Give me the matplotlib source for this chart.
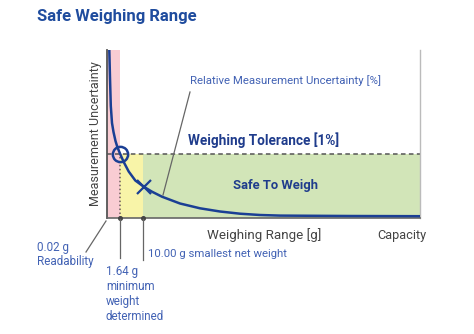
import matplotlib
matplotlib.use("Agg")
import matplotlib.pyplot as plt
from matplotlib.lines import Line2D

W, H = 474, 334

# ---- data (schematic units: x 0..313 = capacity, y 0..168) ----
curve_x = [2.3, 3.0, 3.8, 5.0, 6.5, 8.5, 10.5, 13.0, 16.7, 21.7, 28.3, 36.7, 45.0, 55.0,
           73.0, 93.0, 113.0, 133.0, 153.0, 173.0, 243.0, 313.0]
curve_y = [168, 140, 112, 95, 86, 77, 70.5, 64.5, 56, 46.5, 37.5, 31.3, 26.3, 21.3,
           14.5, 9.7, 6.5, 4.3, 3.0, 2.4, 2.0, 1.8]
capacity = 313
y_top = 168
readability_x = 0          # 0.02 g
min_weight_x = 13          # 1.64 g
smallest_net_x = 36        # 10.00 g
tolerance_y = 64           # 1 %
circle_pt = (13, 64.5)
cross_pt = (36.7, 31.3)

title = "Safe Weighing Range"
ylabel = "Measurement Uncertainty"
xlabel = "Weighing Range [g]"
cap_label = "Capacity"
curve_label = "Relative Measurement Uncertainty [%]"
tol_label = "Weighing Tolerance [1%]"
safe_label = "Safe To Weigh"
read_label = ["0.02 g", "Readability"]
min_label = ["1.64 g", "minimum", "weight", "determined"]
snw_label = "10.00 g smallest net weight"

NARROW = ["Liberation Sans Narrow", "Roboto", "DejaVu Sans"]
C_CURVE = "#1b3f94"
C_BLUE = "#4262b4"
C_BOLD = "#1f3c8c"
C_TITLE = "#1f4c9e"
C_GRAY = "#444444"

fig = plt.figure(figsize=(W / 100, H / 100), dpi=100)
fig.patch.set_facecolor("white")

def fx(x):
    return x / W

def fy(y):
    return 1 - y / H

L, R, T, B = 107, 420, 50, 218
ax = fig.add_axes([fx(L), fy(B), fx(R) - fx(L), fy(T) - fy(B)])
ax.set_xlim(0, capacity)
ax.set_ylim(0, y_top)

# zones
ax.axvspan(readability_x, min_weight_x, color="#f9ccd3", lw=0, zorder=0)
ax.fill_between([min_weight_x, smallest_net_x], 0, tolerance_y, color="#f8f4a8", lw=0, zorder=0)
ax.fill_between([smallest_net_x, capacity], 0, tolerance_y, color="#d2e5b8", lw=0, zorder=0)

# tolerance line and dotted min-weight line
ax.plot([0, capacity], [tolerance_y, tolerance_y], color="#555555", lw=1.1, ls=(0, (3, 2.2)), zorder=2)
ax.plot([min_weight_x, min_weight_x], [0, tolerance_y], color="#6a5a5a", lw=1.1, ls=(0, (1, 1.6)), zorder=2)

# curve
ax.plot(curve_x, curve_y, color=C_CURVE, lw=1.8, zorder=4, solid_joinstyle="round")
ax.plot([circle_pt[0]], [circle_pt[1]], marker="o", ms=11, mfc="none", mec=C_CURVE, mew=1.8, zorder=5)
ax.plot([cross_pt[0]], [cross_pt[1]], marker="x", ms=10, mec=C_CURVE, mew=1.6, zorder=5)

# tick dots on the x axis
ax.plot([min_weight_x, smallest_net_x], [0, 0], ls="none", marker="o", ms=2.6, color="#444444", clip_on=False, zorder=6)

ax.spines["top"].set_visible(False)
ax.spines["left"].set_color("#555555")
ax.spines["left"].set_linewidth(1.3)
ax.spines["bottom"].set_color("#666666")
ax.spines["bottom"].set_linewidth(1.2)
ax.spines["right"].set_color("#bbbbbb")
ax.spines["right"].set_linewidth(1.0)
ax.set_xticks([])
ax.set_yticks([])

# ---- texts ----
def txt(x, y, s, size, color, weight="normal", **kw):
    fig.text(fx(x), fy(y), s, fontsize=size, color=color, fontweight=weight,
             family=NARROW, va="center", ha=kw.pop("ha", "left"), **kw)

txt(37, 17, title, 12, C_TITLE, "bold")
txt(95, 134, ylabel, 9, C_GRAY, ha="center", rotation=90)
txt(190, 81, curve_label, 8.2, C_BLUE)
txt(188, 140, tol_label, 9.8, C_BOLD, "bold")
txt(233, 185, safe_label, 9.4, C_BOLD, "bold")
txt(207, 235, xlabel, 9.6, C_GRAY)
txt(377, 235, cap_label, 9.2, C_GRAY)
txt(37, 247, read_label[0], 8.4, C_BLUE)
txt(37, 262, read_label[1], 8.4, C_BLUE)
for i, s in enumerate(min_label):
    txt(106, 271 + 15 * i, s, 8.4, C_BLUE)
txt(148, 254, snw_label, 8.2, C_BLUE)

# leader lines (figure pixels)
def seg(x0, y0, x1, y1):
    fig.add_artist(Line2D([fx(x0), fx(x1)], [fy(y0), fy(y1)], color="#666666", lw=0.9))

seg(190, 92, 163, 195)
seg(106, 221, 86, 252)
seg(120, 219, 120, 258)
seg(143, 219, 143, 260)

fig.savefig("out.png", dpi=100)
